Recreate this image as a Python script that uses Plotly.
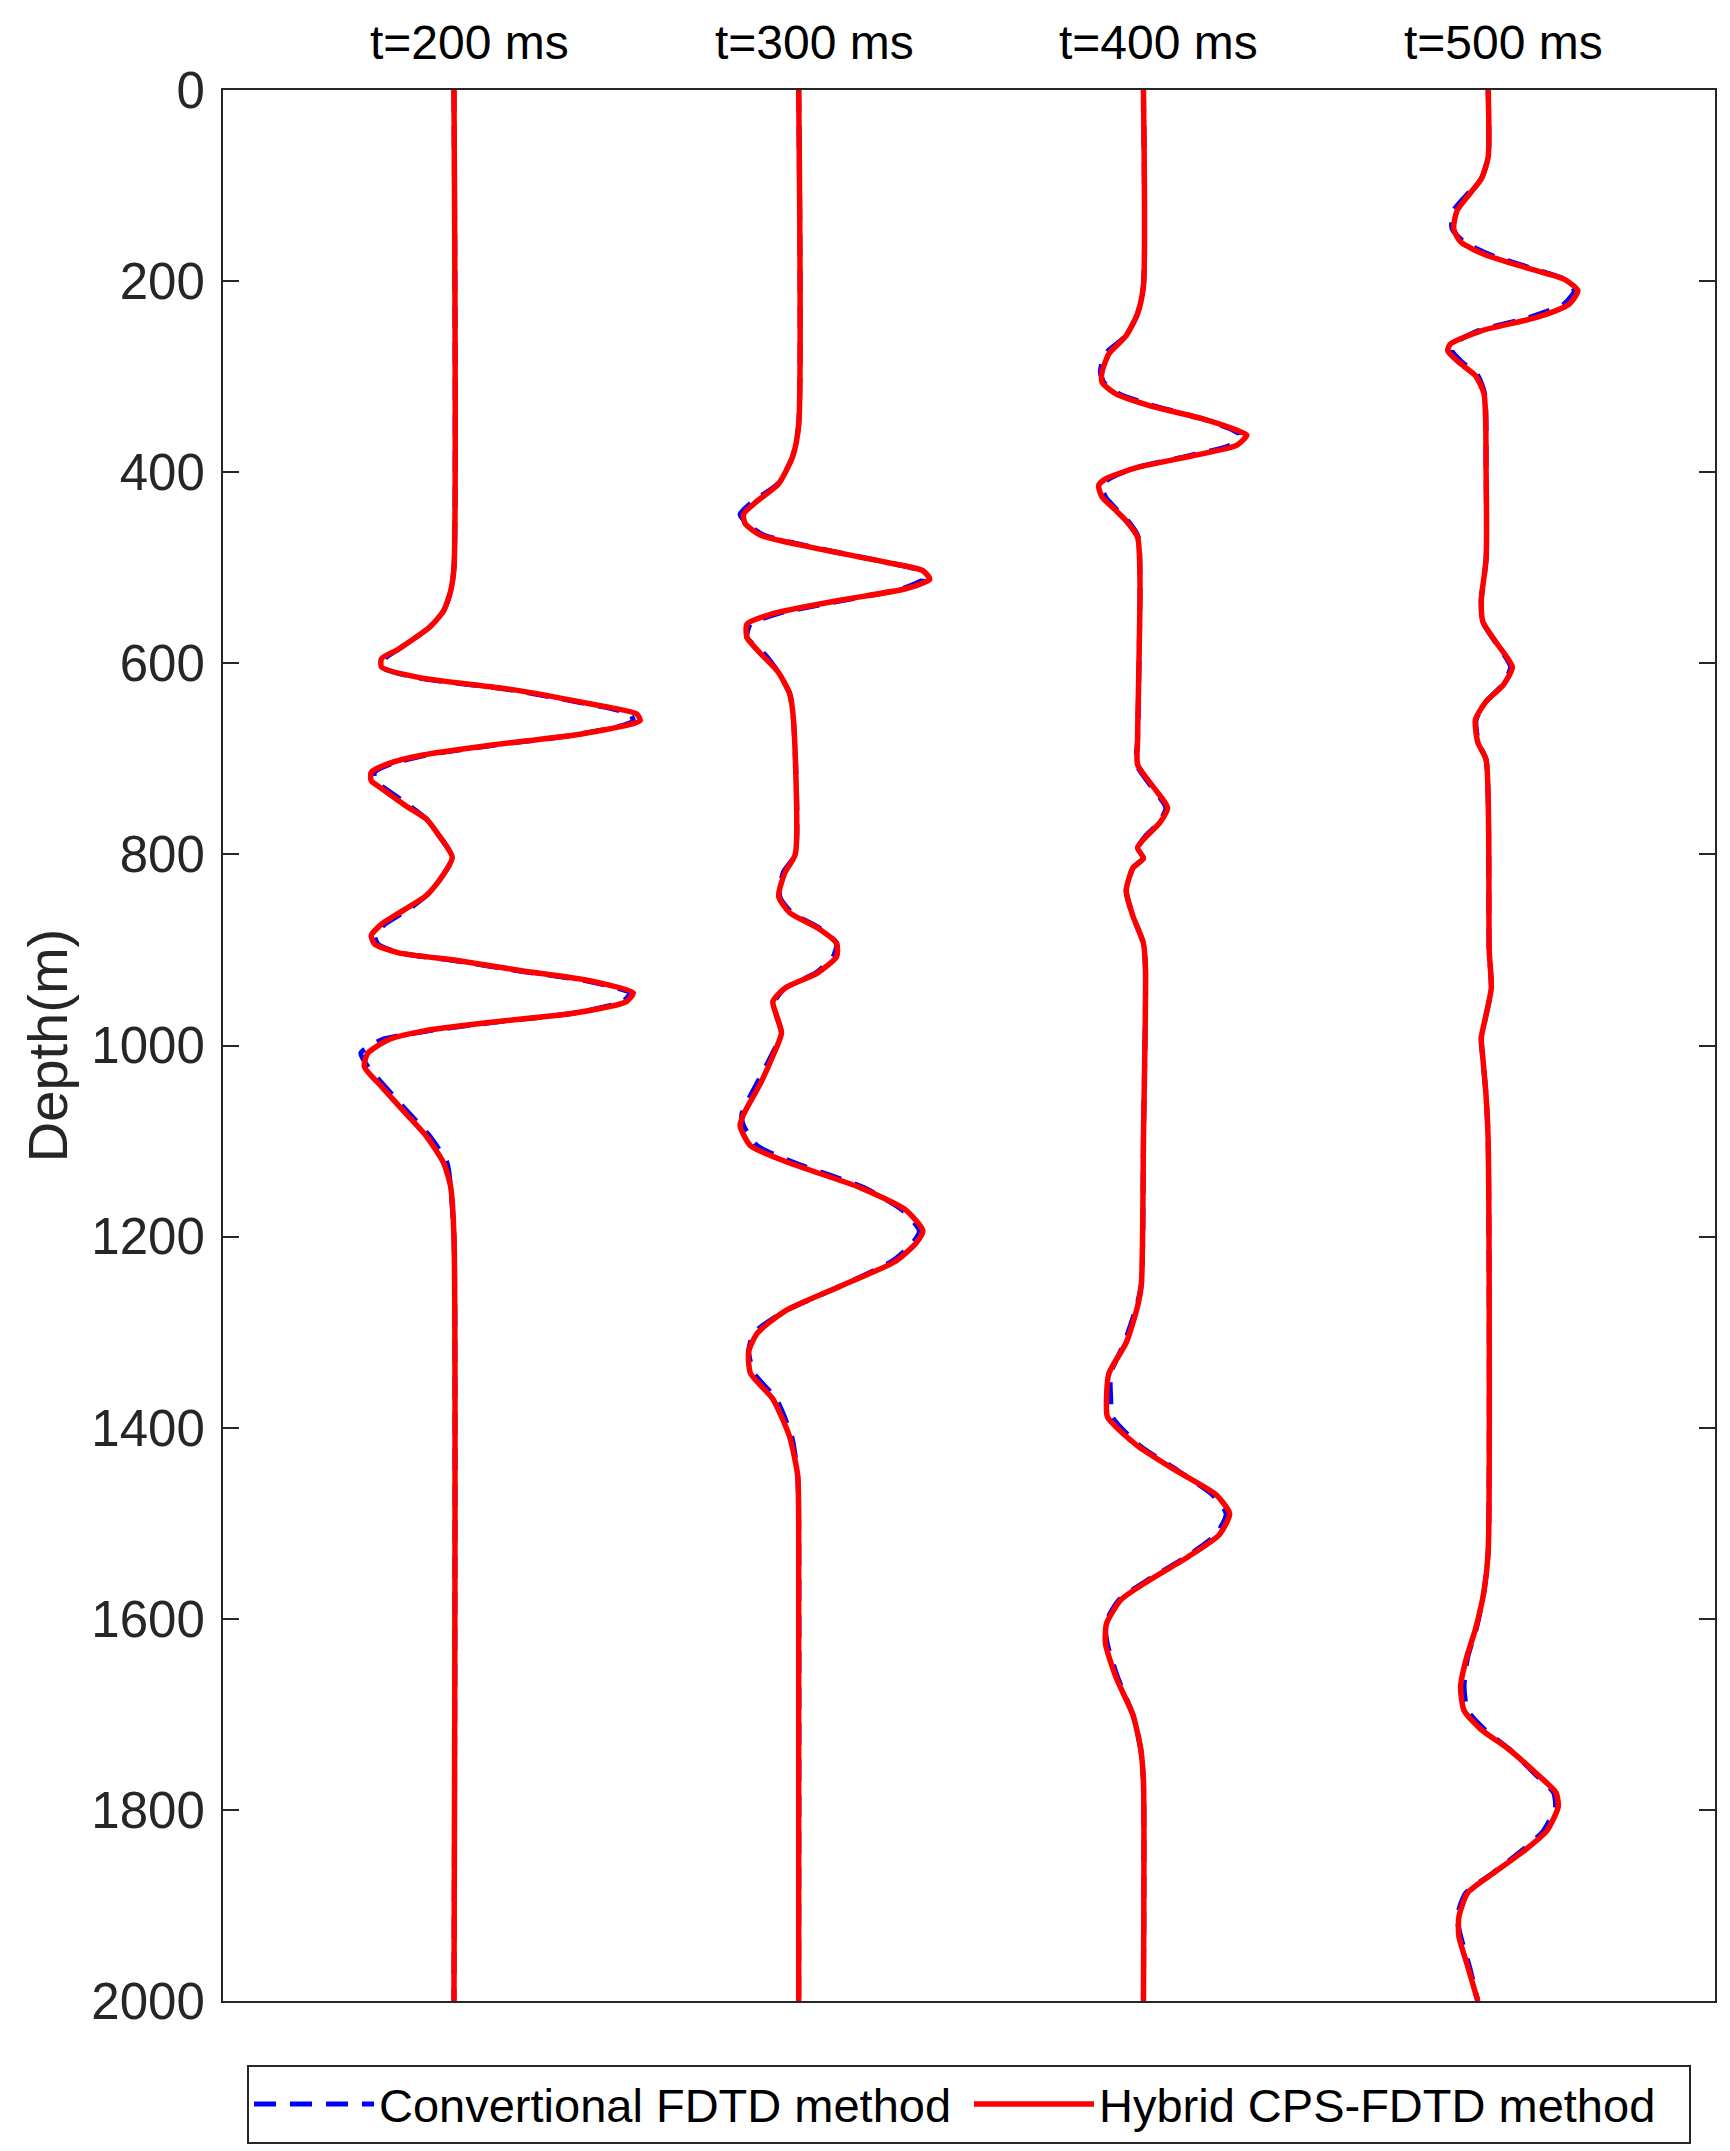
"""
Snapshots of a wavefield against depth at four times:
conventional FDTD (dashed blue) vs hybrid CPS-FDTD (solid red)
"""
import numpy as np
import plotly.graph_objects as go

# titles above each trace and their horizontal offsets (trace spacing = 1)
titles = ['t=200 ms', 't=300 ms', 't=400 ms', 't=500 ms']
offsets = [1, 2, 3, 4]

# t=200 ms: depth (m), hybrid amplitude, FDTD amplitude
d200 = [0, 500, 525, 545, 562, 585, 595, 604, 615, 627, 642, 653, 660, 665, 675, 686, 696, 705, 714, 723,
        731, 749, 763, 777, 803, 826, 843, 857, 873, 885, 894, 903, 911, 922, 932, 945, 954, 966, 976, 985,
        994, 1008, 1022, 1043, 1071, 1095, 1123, 1147, 1200, 2000]
h200 = [0, 0, -0.01, -0.03, -0.07, -0.16, -0.21, -0.21, -0.10, 0.16, 0.39, 0.53, 0.54, 0.50, 0.35, 0.10, -0.09, -0.19, -0.24, -0.24,
        -0.21, -0.14, -0.08, -0.05, -0.005, -0.04, -0.08, -0.14, -0.21, -0.24, -0.23, -0.16, 0.01, 0.20, 0.39, 0.52, 0.50, 0.35, 0.10, -0.09,
        -0.19, -0.25, -0.26, -0.21, -0.14, -0.08, -0.03, -0.01, 0, 0]
f200 = [0, 0, -0.01, -0.03, -0.07, -0.16, -0.20, -0.21, -0.11, 0.15, 0.38, 0.51, 0.52, 0.49, 0.35, 0.11, -0.08, -0.18, -0.23, -0.23,
        -0.20, -0.13, -0.08, -0.05, -0.005, -0.04, -0.08, -0.13, -0.20, -0.23, -0.22, -0.16, 0.00, 0.19, 0.38, 0.51, 0.49, 0.35, 0.11, -0.08,
        -0.21, -0.27, -0.25, -0.20, -0.13, -0.07, -0.02, -0.01, 0, 0]

# t=300 ms
d300 = [0, 350, 383, 412, 430, 444, 454, 466, 480, 494, 503, 512, 522, 534, 548, 559, 573, 590, 609, 632,
        660, 800, 819, 844, 861, 877, 893, 907, 924, 940, 954, 968, 987, 1011, 1039, 1072, 1084, 1105, 1123, 1149,
        1172, 1194, 1207, 1226, 1252, 1278, 1301, 1320, 1343, 1370, 1410, 1450, 1500, 2000]
h300 = [0, 0, -0.017, -0.058, -0.12, -0.16, -0.155, -0.11, 0.055, 0.25, 0.36, 0.38, 0.31, 0.12, -0.075, -0.15, -0.15, -0.11, -0.06, -0.026,
        -0.015, -0.01, -0.04, -0.058, -0.026, 0.055, 0.11, 0.11, 0.055, -0.04, -0.075, -0.065, -0.05, -0.075, -0.11, -0.16, -0.17, -0.14, -0.026, 0.18,
        0.31, 0.36, 0.34, 0.28, 0.12, -0.04, -0.12, -0.145, -0.14, -0.075, -0.026, -0.003, 0, 0]
f300 = [0, 0, -0.017, -0.06, -0.13, -0.17, -0.15, -0.10, 0.06, 0.25, 0.35, 0.36, 0.30, 0.13, -0.06, -0.14, -0.15, -0.10, -0.06, -0.026,
        -0.015, -0.01, -0.045, -0.055, -0.02, 0.06, 0.11, 0.10, 0.05, -0.04, -0.07, -0.065, -0.05, -0.08, -0.12, -0.165, -0.16, -0.12, -0.01, 0.19,
        0.30, 0.35, 0.33, 0.27, 0.12, -0.04, -0.13, -0.145, -0.13, -0.065, -0.02, -0.003, 0, 0]

# t=400 ms
d400 = [0, 205, 234, 257, 276, 295, 306, 318, 330, 344, 356, 361, 372, 383, 395, 407, 414, 426, 440, 451,
        468, 515, 680, 706, 730, 751, 767, 781, 793, 804, 814, 838, 865, 893, 921, 1100, 1250, 1273, 1311, 1343,
        1369, 1389, 1419, 1445, 1470, 1490, 1512, 1535, 1560, 1580, 1605, 1626, 1661, 1701, 1736, 1770, 2000]
h400 = [0, 0, -0.017, -0.05, -0.10, -0.12, -0.12, -0.08, 0.015, 0.17, 0.27, 0.30, 0.27, 0.14, -0.017, -0.11, -0.13, -0.12, -0.08, -0.05,
        -0.017, -0.01, -0.017, -0.017, 0.03, 0.07, 0.047, 0.009, -0.017, 0.0, -0.03, -0.05, -0.03, 0, 0.006, 0.0, -0.006, -0.017, -0.05, -0.10,
        -0.107, -0.104, -0.017, 0.095, 0.21, 0.25, 0.22, 0.13, 0.015, -0.065, -0.107, -0.11, -0.08, -0.03, -0.008, 0, 0]
f400 = [0, 0, -0.017, -0.05, -0.11, -0.125, -0.115, -0.07, 0.025, 0.17, 0.26, 0.28, 0.25, 0.13, -0.02, -0.10, -0.12, -0.11, -0.075, -0.045,
        -0.015, -0.01, -0.017, -0.02, 0.025, 0.065, 0.045, 0.005, -0.015, 0.0, -0.03, -0.05, -0.03, 0, 0.006, 0.0, -0.006, -0.02, -0.055, -0.095,
        -0.095, -0.09, -0.01, 0.10, 0.20, 0.24, 0.21, 0.125, 0.01, -0.07, -0.11, -0.105, -0.075, -0.03, -0.008, 0, 0]

# t=500 ms
d500 = [0, 70, 93, 107, 126, 145, 159, 173, 187, 198, 210, 224, 238, 252, 266, 273, 285, 299, 318, 400,
        491, 534, 557, 580, 604, 623, 640, 659, 683, 701, 900, 940, 968, 992, 1015, 1053, 1100, 1530, 1571, 1611,
        1641, 1671, 1696, 1716, 1736, 1762, 1782, 1797, 1822, 1842, 1867, 1887, 1912, 1932, 1963, 2000]
h500 = [0, 0, -0.02, -0.05, -0.09, -0.10, -0.08, -0.005, 0.12, 0.22, 0.26, 0.235, 0.14, -0.02, -0.11, -0.117, -0.085, -0.037, -0.012, -0.006,
        -0.006, -0.02, -0.015, 0.027, 0.07, 0.043, -0.006, -0.037, -0.03, -0.006, 0.003, 0.009, -0.006, -0.02, -0.015, -0.006, 0, 0, -0.012, -0.037,
        -0.063, -0.08, -0.07, -0.02, 0.058, 0.14, 0.197, 0.203, 0.17, 0.107, 0.012, -0.06, -0.085, -0.085, -0.06, -0.03]
f500 = [0, 0, -0.02, -0.055, -0.10, -0.105, -0.07, 0.01, 0.13, 0.22, 0.25, 0.22, 0.12, -0.03, -0.10, -0.105, -0.075, -0.03, -0.01, -0.006,
        -0.006, -0.02, -0.015, 0.025, 0.065, 0.04, -0.006, -0.035, -0.028, -0.006, 0.003, 0.009, -0.006, -0.02, -0.015, -0.006, 0, 0, -0.012, -0.035,
        -0.06, -0.07, -0.06, -0.01, 0.06, 0.135, 0.19, 0.195, 0.16, 0.10, 0.01, -0.065, -0.09, -0.08, -0.055, -0.03]

depth_ticks = [0, 200, 400, 600, 800, 1000, 1200, 1400, 1600, 1800, 2000]

FONT = "Liberation Sans, Arial, sans-serif"
AXIS_COLOR = '#262626'

depths = [d200, d300, d400, d500]
hybrid = [h200, h300, h400, h500]
fdtd = [f200, f300, f400, f500]

fig = go.Figure()

for i, off in enumerate(offsets):
    # conventional FDTD, dashed blue (drawn first so red sits on top)
    fig.add_trace(go.Scatter(
        x=off + np.array(fdtd[i]), y=depths[i],
        mode='lines', name='Convertional FDTD method',
        line=dict(color='#0000ff', width=5, dash='22px,14px', shape='spline', smoothing=0.6),
        showlegend=(i == 0), legendrank=1,
    ))
for i, off in enumerate(offsets):
    fig.add_trace(go.Scatter(
        x=off + np.array(hybrid[i]), y=depths[i],
        mode='lines', name='Hybrid CPS-FDTD method',
        line=dict(color='#ff0000', width=5.5, shape='spline', smoothing=0.6),
        showlegend=(i == 0), legendrank=2,
    ))

# time labels above each trace
for off, txt in zip(offsets, titles):
    fig.add_annotation(x=off + 0.045, y=1.025, xref='x', yref='paper', text=txt,
                       showarrow=False, yanchor='middle', font=dict(size=48, color='black', family=FONT))

fig.update_xaxes(
    range=[0.330, 4.658], showticklabels=False, ticks='', showgrid=False, zeroline=False,
    showline=True, linecolor=AXIS_COLOR, linewidth=2, mirror=True,
)
fig.update_yaxes(
    range=[2000, 0], tickvals=depth_ticks, ticks='inside', ticklen=16, tickwidth=2,
    tickcolor=AXIS_COLOR, showgrid=False, zeroline=False,
    showline=True, linecolor=AXIS_COLOR, linewidth=2, mirror='ticks',
    tickfont=dict(size=51, color=AXIS_COLOR, family=FONT), ticklabelstandoff=6,
    title=dict(text='Depth(m)', font=dict(size=56, color=AXIS_COLOR, family=FONT), standoff=6),
)

# the page body adds an 8px margin, so the figure is trimmed by that much
fig.update_layout(
    width=1722, height=2143,
    margin=dict(l=215, r=15, t=82, b=150, autoexpand=False),
    plot_bgcolor='white', paper_bgcolor='white',
    font=dict(family=FONT, color='black'),
    legend=dict(
        orientation='h', x=0.5, xanchor='center', y=-0.0335, yanchor='top',
        bordercolor=AXIS_COLOR, borderwidth=2, bgcolor='white',
        font=dict(size=47, color='black', family=FONT), itemwidth=120,
        entrywidth=585, tracegroupgap=0,
    ),
)

fig.write_html("out.html")
